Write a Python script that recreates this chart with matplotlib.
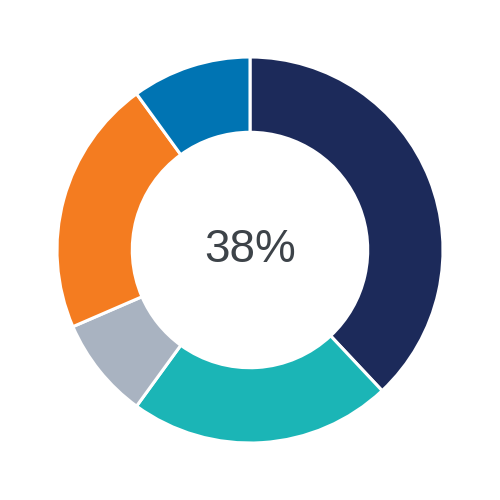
import matplotlib.pyplot as plt

# Datos del donut (sentido horario desde arriba)
segments = ['Segment A', 'Segment B', 'Segment C', 'Segment D', 'Segment E']
values = [38, 22, 8.5, 21.5, 10]
colors = ['#1c2a5a', '#1bb5b6', '#a9b3c1', '#f47c20', '#0074b3']
center_label = '38%'

fig = plt.figure(figsize=(5, 5), dpi=100)
ax = fig.add_axes([0, 0, 1, 1])

ax.pie(values, colors=colors, startangle=90, counterclock=False, radius=1,
       wedgeprops=dict(width=0.39, edgecolor='white', linewidth=2.2))

ax.text(0, 0, center_label, ha='center', va='center', fontsize=33,
        color='#3d4349', family='Liberation Sans')

lim = 250 / 193
ax.set_xlim(-lim, lim)
ax.set_ylim(-lim, lim)
ax.set_aspect('equal')
ax.axis('off')

fig.savefig('out.png', dpi=100, facecolor='white')
